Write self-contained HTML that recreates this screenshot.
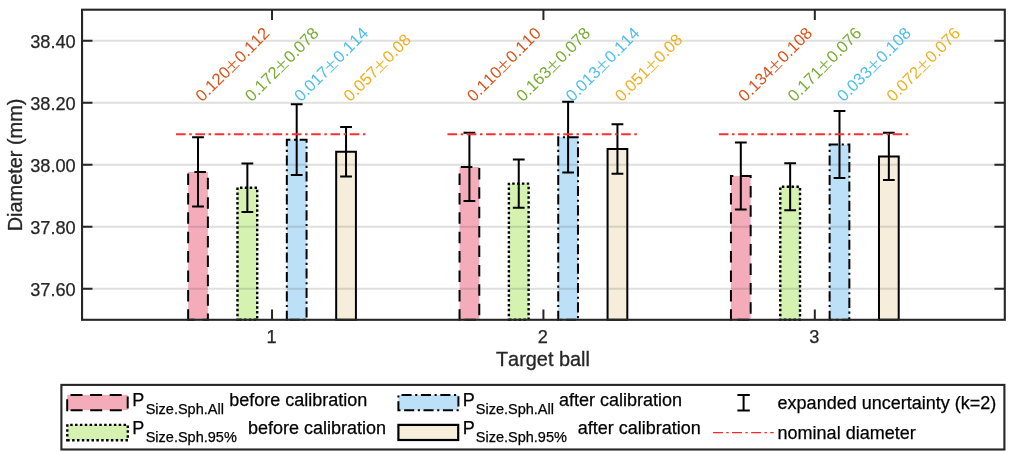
<!DOCTYPE html>
<html><head><meta charset="utf-8"><title>Diameter chart</title><style>html,body{margin:0;padding:0;background:#fff;}svg{display:block;}text{font-kerning:none;}</style></head><body>
<svg width="1025" height="455" viewBox="0 0 1025 455">
<rect x="0" y="0" width="1025" height="455" fill="#fff"/>
<rect x="188.14" y="171.88" width="19.74" height="147.92" fill="#F4ACBB"/>
<path d="M188.14,319.80 L188.14,171.88 L207.88,171.88 L207.88,319.80 Z" fill="none" stroke="#000" stroke-width="2.0" stroke-dasharray="9.5 9.9" stroke-linecap="square"/>
<rect x="237.49" y="187.70" width="19.74" height="132.10" fill="#D6F2B0"/>
<path d="M237.49,319.80 L237.49,187.70 L257.22,187.70 L257.22,319.80 Z" fill="none" stroke="#000" stroke-width="2.4" stroke-dasharray="0.1 4.75" stroke-linecap="square"/>
<rect x="286.83" y="139.63" width="19.74" height="180.17" fill="#BCE0F7"/>
<path d="M286.83,319.80 L286.83,139.63 L306.57,139.63 L306.57,319.80 Z" fill="none" stroke="#000" stroke-width="2.0" stroke-dasharray="8.1 5.6 0.1 5.6" stroke-linecap="square"/>
<rect x="336.18" y="151.73" width="19.74" height="168.07" fill="#F6EEDB"/>
<path d="M336.18,319.80 L336.18,151.73 L355.92,151.73 L355.92,319.80 Z" fill="none" stroke="#000" stroke-width="2.0"/>
<rect x="459.54" y="166.92" width="19.74" height="152.88" fill="#F4ACBB"/>
<path d="M459.54,319.80 L459.54,166.92 L479.28,166.92 L479.28,319.80 Z" fill="none" stroke="#000" stroke-width="2.0" stroke-dasharray="9.5 9.9" stroke-linecap="square"/>
<rect x="508.88" y="183.67" width="19.74" height="136.13" fill="#D6F2B0"/>
<path d="M508.88,319.80 L508.88,183.67 L528.62,183.67 L528.62,319.80 Z" fill="none" stroke="#000" stroke-width="2.4" stroke-dasharray="0.1 4.75" stroke-linecap="square"/>
<rect x="558.23" y="137.15" width="19.74" height="182.65" fill="#BCE0F7"/>
<path d="M558.23,319.80 L558.23,137.15 L577.97,137.15 L577.97,319.80 Z" fill="none" stroke="#000" stroke-width="2.0" stroke-dasharray="8.1 5.6 0.1 5.6" stroke-linecap="square"/>
<rect x="607.57" y="148.93" width="19.74" height="170.87" fill="#F6EEDB"/>
<path d="M607.57,319.80 L607.57,148.93 L627.31,148.93 L627.31,319.80 Z" fill="none" stroke="#000" stroke-width="2.0"/>
<rect x="730.93" y="175.91" width="19.74" height="143.89" fill="#F4ACBB"/>
<path d="M730.93,319.80 L730.93,175.91 L750.67,175.91 L750.67,319.80 Z" fill="none" stroke="#000" stroke-width="2.0" stroke-dasharray="9.5 9.9" stroke-linecap="square"/>
<rect x="780.28" y="186.77" width="19.74" height="133.03" fill="#D6F2B0"/>
<path d="M780.28,319.80 L780.28,186.77 L800.02,186.77 L800.02,319.80 Z" fill="none" stroke="#000" stroke-width="2.4" stroke-dasharray="0.1 4.75" stroke-linecap="square"/>
<rect x="829.63" y="144.59" width="19.74" height="175.21" fill="#BCE0F7"/>
<path d="M829.63,319.80 L829.63,144.59 L849.36,144.59 L849.36,319.80 Z" fill="none" stroke="#000" stroke-width="2.0" stroke-dasharray="8.1 5.6 0.1 5.6" stroke-linecap="square"/>
<rect x="878.97" y="156.38" width="19.74" height="163.42" fill="#F6EEDB"/>
<path d="M878.97,319.80 L878.97,156.38 L898.71,156.38 L898.71,319.80 Z" fill="none" stroke="#000" stroke-width="2.0"/>
<line x1="82.05" y1="288.79" x2="1004.80" y2="288.79" stroke="#262626" stroke-opacity="0.15" stroke-width="2"/>
<line x1="82.05" y1="226.77" x2="1004.80" y2="226.77" stroke="#262626" stroke-opacity="0.15" stroke-width="2"/>
<line x1="82.05" y1="164.75" x2="1004.80" y2="164.75" stroke="#262626" stroke-opacity="0.15" stroke-width="2"/>
<line x1="82.05" y1="102.73" x2="1004.80" y2="102.73" stroke="#262626" stroke-opacity="0.15" stroke-width="2"/>
<line x1="82.05" y1="40.71" x2="1004.80" y2="40.71" stroke="#262626" stroke-opacity="0.15" stroke-width="2"/>
<path d="M198.01,137.15 L198.01,206.61 M192.11,137.15 L203.91,137.15 M192.11,206.61 L203.91,206.61" stroke="#000" stroke-width="2" fill="none"/>
<path d="M247.36,163.51 L247.36,211.89 M241.46,163.51 L253.26,163.51 M241.46,211.89 L253.26,211.89" stroke="#000" stroke-width="2" fill="none"/>
<path d="M296.70,104.28 L296.70,174.98 M290.80,104.28 L302.60,104.28 M290.80,174.98 L302.60,174.98" stroke="#000" stroke-width="2" fill="none"/>
<path d="M346.05,126.92 L346.05,176.53 M340.15,126.92 L351.95,126.92 M340.15,176.53 L351.95,176.53" stroke="#000" stroke-width="2" fill="none"/>
<path d="M469.41,132.81 L469.41,201.03 M463.51,132.81 L475.31,132.81 M463.51,201.03 L475.31,201.03" stroke="#000" stroke-width="2" fill="none"/>
<path d="M518.75,159.48 L518.75,207.85 M512.85,159.48 L524.65,159.48 M512.85,207.85 L524.65,207.85" stroke="#000" stroke-width="2" fill="none"/>
<path d="M568.10,101.80 L568.10,172.50 M562.20,101.80 L574.00,101.80 M562.20,172.50 L574.00,172.50" stroke="#000" stroke-width="2" fill="none"/>
<path d="M617.44,124.13 L617.44,173.74 M611.54,124.13 L623.34,124.13 M611.54,173.74 L623.34,173.74" stroke="#000" stroke-width="2" fill="none"/>
<path d="M740.80,142.42 L740.80,209.40 M734.90,142.42 L746.70,142.42 M734.90,209.40 L746.70,209.40" stroke="#000" stroke-width="2" fill="none"/>
<path d="M790.15,163.20 L790.15,210.33 M784.25,163.20 L796.05,163.20 M784.25,210.33 L796.05,210.33" stroke="#000" stroke-width="2" fill="none"/>
<path d="M839.49,111.10 L839.49,178.08 M833.59,111.10 L845.39,111.10 M833.59,178.08 L845.39,178.08" stroke="#000" stroke-width="2" fill="none"/>
<path d="M888.84,132.81 L888.84,179.94 M882.94,132.81 L894.74,132.81 M882.94,179.94 L894.74,179.94" stroke="#000" stroke-width="2" fill="none"/>
<line x1="177.04" y1="134.19" x2="367.02" y2="134.19" stroke="#FF3030" stroke-width="2" stroke-linecap="square" stroke-dasharray="7.6 5.6 0.5 5.6"/>
<line x1="448.44" y1="134.19" x2="638.41" y2="134.19" stroke="#FF3030" stroke-width="2" stroke-linecap="square" stroke-dasharray="7.6 5.6 0.5 5.6"/>
<line x1="719.83" y1="134.19" x2="909.81" y2="134.19" stroke="#FF3030" stroke-width="2" stroke-linecap="square" stroke-dasharray="7.6 5.6 0.5 5.6"/>
<path d="M82.05,288.79 h10.4 M1004.80,288.79 h-10.4 M82.05,226.77 h10.4 M1004.80,226.77 h-10.4 M82.05,164.75 h10.4 M1004.80,164.75 h-10.4 M82.05,102.73 h10.4 M1004.80,102.73 h-10.4 M82.05,40.71 h10.4 M1004.80,40.71 h-10.4 M272.03,319.80 v-10.4 M272.03,9.70 v10.4 M543.42,319.80 v-10.4 M543.42,9.70 v10.4 M814.82,319.80 v-10.4 M814.82,9.70 v10.4" stroke="#262626" stroke-width="2" fill="none"/>
<rect x="82.05" y="9.70" width="922.75" height="310.10" fill="none" stroke="#262626" stroke-width="2.1"/>
<g font-family="'Liberation Sans', Arial, Helvetica, sans-serif" font-size="18.2" fill="#262626" stroke="#262626" stroke-width="0.25">
<text x="75.7" y="295.79" text-anchor="end">37.60</text>
<text x="75.7" y="233.77" text-anchor="end">37.80</text>
<text x="75.7" y="171.75" text-anchor="end">38.00</text>
<text x="75.7" y="109.73" text-anchor="end">38.20</text>
<text x="75.7" y="47.71" text-anchor="end">38.40</text>
<text x="271.53" y="342.8" text-anchor="middle">1</text>
<text x="542.92" y="342.8" text-anchor="middle">2</text>
<text x="814.32" y="342.8" text-anchor="middle">3</text>
</g>
<text x="542.92" y="366.3" text-anchor="middle" font-family="'Liberation Sans', Arial, Helvetica, sans-serif" font-size="19.9" fill="#262626" stroke="#262626" stroke-width="0.3">Target ball</text>
<text transform="translate(21.6,164.95) rotate(-90)" text-anchor="middle" font-family="'Liberation Sans', Arial, Helvetica, sans-serif" font-size="19.9" fill="#262626" stroke="#262626" stroke-width="0.3">Diameter (mm)</text>
<g font-family="'Liberation Sans', Arial, Helvetica, sans-serif" font-size="16.6">
<text transform="translate(202.31,102.50) rotate(-45)" fill="#D95319">0.120<tspan dx="-0.9" dy="0.2" font-family="'Noto Serif CJK SC', 'Noto Sans CJK SC', serif" font-size="13.8" stroke="#D95319" stroke-width="0.25">±</tspan><tspan dx="0.5" dy="-0.2">0.112</tspan></text>
<text transform="translate(251.66,102.50) rotate(-45)" fill="#77AC30">0.172<tspan dx="-0.9" dy="0.2" font-family="'Noto Serif CJK SC', 'Noto Sans CJK SC', serif" font-size="13.8" stroke="#77AC30" stroke-width="0.25">±</tspan><tspan dx="0.5" dy="-0.2">0.078</tspan></text>
<text transform="translate(301.00,102.50) rotate(-45)" fill="#4DBEEE">0.017<tspan dx="-0.9" dy="0.2" font-family="'Noto Serif CJK SC', 'Noto Sans CJK SC', serif" font-size="13.8" stroke="#4DBEEE" stroke-width="0.25">±</tspan><tspan dx="0.5" dy="-0.2">0.114</tspan></text>
<text transform="translate(350.35,102.50) rotate(-45)" fill="#EDB120">0.057<tspan dx="-0.9" dy="0.2" font-family="'Noto Serif CJK SC', 'Noto Sans CJK SC', serif" font-size="13.8" stroke="#EDB120" stroke-width="0.25">±</tspan><tspan dx="0.5" dy="-0.2">0.08</tspan></text>
<text transform="translate(473.71,102.50) rotate(-45)" fill="#D95319">0.110<tspan dx="-0.9" dy="0.2" font-family="'Noto Serif CJK SC', 'Noto Sans CJK SC', serif" font-size="13.8" stroke="#D95319" stroke-width="0.25">±</tspan><tspan dx="0.5" dy="-0.2">0.110</tspan></text>
<text transform="translate(523.05,102.50) rotate(-45)" fill="#77AC30">0.163<tspan dx="-0.9" dy="0.2" font-family="'Noto Serif CJK SC', 'Noto Sans CJK SC', serif" font-size="13.8" stroke="#77AC30" stroke-width="0.25">±</tspan><tspan dx="0.5" dy="-0.2">0.078</tspan></text>
<text transform="translate(572.40,102.50) rotate(-45)" fill="#4DBEEE">0.013<tspan dx="-0.9" dy="0.2" font-family="'Noto Serif CJK SC', 'Noto Sans CJK SC', serif" font-size="13.8" stroke="#4DBEEE" stroke-width="0.25">±</tspan><tspan dx="0.5" dy="-0.2">0.114</tspan></text>
<text transform="translate(621.74,102.50) rotate(-45)" fill="#EDB120">0.051<tspan dx="-0.9" dy="0.2" font-family="'Noto Serif CJK SC', 'Noto Sans CJK SC', serif" font-size="13.8" stroke="#EDB120" stroke-width="0.25">±</tspan><tspan dx="0.5" dy="-0.2">0.08</tspan></text>
<text transform="translate(745.10,102.50) rotate(-45)" fill="#D95319">0.134<tspan dx="-0.9" dy="0.2" font-family="'Noto Serif CJK SC', 'Noto Sans CJK SC', serif" font-size="13.8" stroke="#D95319" stroke-width="0.25">±</tspan><tspan dx="0.5" dy="-0.2">0.108</tspan></text>
<text transform="translate(794.45,102.50) rotate(-45)" fill="#77AC30">0.171<tspan dx="-0.9" dy="0.2" font-family="'Noto Serif CJK SC', 'Noto Sans CJK SC', serif" font-size="13.8" stroke="#77AC30" stroke-width="0.25">±</tspan><tspan dx="0.5" dy="-0.2">0.076</tspan></text>
<text transform="translate(843.79,102.50) rotate(-45)" fill="#4DBEEE">0.033<tspan dx="-0.9" dy="0.2" font-family="'Noto Serif CJK SC', 'Noto Sans CJK SC', serif" font-size="13.8" stroke="#4DBEEE" stroke-width="0.25">±</tspan><tspan dx="0.5" dy="-0.2">0.108</tspan></text>
<text transform="translate(893.14,102.50) rotate(-45)" fill="#EDB120">0.072<tspan dx="-0.9" dy="0.2" font-family="'Noto Serif CJK SC', 'Noto Sans CJK SC', serif" font-size="13.8" stroke="#EDB120" stroke-width="0.25">±</tspan><tspan dx="0.5" dy="-0.2">0.076</tspan></text>
</g>
<rect x="61.4" y="384.9" width="943.00" height="64.60" fill="#fff" stroke="#262626" stroke-width="2.1"/>
<rect x="67.2" y="394.9" width="60.50" height="15.30" fill="#F4ACBB"/>
<path d="M67.2,410.2 L67.2,394.9 L127.7,394.9 L127.7,410.2 Z" fill="none" stroke="#000" stroke-width="2.0" stroke-dasharray="10 9.6" stroke-linecap="square"/>
<rect x="67.3" y="424.9" width="60.50" height="15.30" fill="#D6F2B0"/>
<path d="M67.3,440.2 L67.3,424.9 L127.8,424.9 L127.8,440.2 Z" fill="none" stroke="#000" stroke-width="2.4" stroke-dasharray="0.1 4.75" stroke-linecap="square"/>
<rect x="398.4" y="395.0" width="60.00" height="15.30" fill="#BCE0F7"/>
<path d="M398.4,410.3 L398.4,395.0 L458.4,395.0 L458.4,410.3 Z" fill="none" stroke="#000" stroke-width="2.0" stroke-dasharray="8.1 5.6 0.1 5.6" stroke-linecap="square"/>
<rect x="398.4" y="424.9" width="59.8" height="15.1" fill="#F6EEDB" stroke="#000" stroke-width="2.2"/>
<g font-family="'Liberation Sans', Arial, Helvetica, sans-serif" font-size="18.0" fill="#000" stroke="#000" stroke-width="0.25">
<text x="132.2" y="405.5">P</text><text x="145.7" y="413.80" font-size="14.5">Size.Sph.All</text><text x="229.3" y="405.5">before calibration</text>
<text x="132.2" y="434.1">P</text><text x="145.7" y="442.40" font-size="14.5">Size.Sph.95%</text><text x="248.0" y="434.1">before calibration</text>
<text x="462.8" y="405.5">P</text><text x="475.8" y="413.80" font-size="14.5">Size.Sph.All</text><text x="559.0" y="405.5">after calibration</text>
<text x="462.8" y="434.1">P</text><text x="475.8" y="442.40" font-size="14.5">Size.Sph.95%</text><text x="577.7" y="434.1">after calibration</text>
<text x="777.6" y="409.3">expanded uncertainty (k=2)</text>
<text x="777.6" y="438.8">nominal diameter</text>
</g>
<path d="M743.6,394.9 V410.6 M737.4,394.9 H749.8 M737.4,410.6 H749.8" stroke="#000" stroke-width="2" fill="none"/>
<line x1="712.9" y1="432.6" x2="773.7" y2="432.6" stroke="#FF2626" stroke-width="1.4" stroke-dasharray="10 3.35 2.4 3.35"/>
</svg>
</body></html>
